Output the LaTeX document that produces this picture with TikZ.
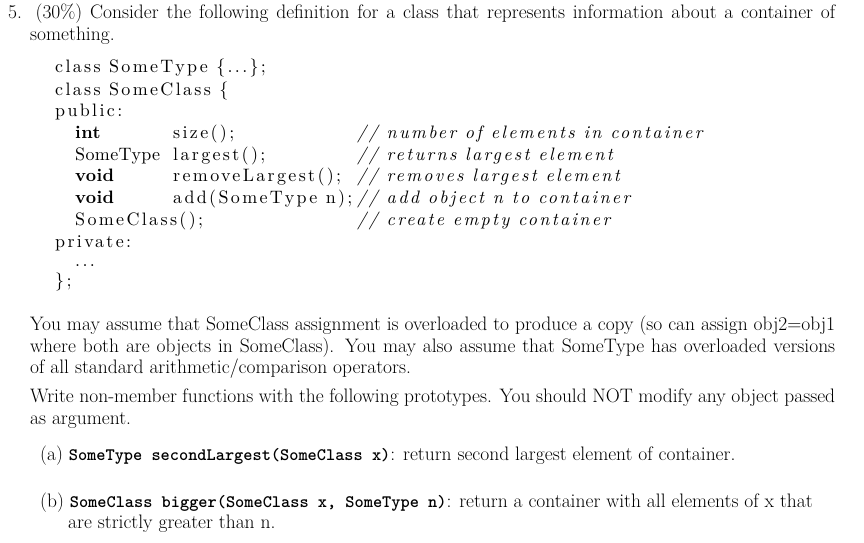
\documentclass[tikz,border=0pt]{standalone}
\usepackage{fontspec}
\newfontfamily\codefont{lmroman10-regular.otf}[LetterSpace=13,BoldFont=lmroman10-bold.otf,BoldFeatures={LetterSpace=2},ItalicFont=lmroman10-italic.otf,ItalicFeatures={LetterSpace=13}]
\newfontfamily\codenarrow{lmroman10-regular.otf}[LetterSpace=2]
\newcommand{\kw}[1]{\textbf{#1}}
\newcommand{\cm}[1]{{\itshape #1}}
\begin{document}
\begin{tikzpicture}[x=1pt,y=-1pt,
  t/.style={anchor=base west,inner sep=0pt,font=\fontsize{19.5}{22}\selectfont},
  c/.style={t,font=\fontsize{18}{22}\codefont}]
\useasboundingbox[fill=white] (0,0) rectangle (864,543);
\node[t] (l1) at (8,19) {\makebox[827pt][s]{5. (30\%) Consider the following definition for a class that represents information about a container of}};
\node[t] (l2) at (30,41) {something.};
\node[c] (c1) at (55,73) {class SomeType \{...\};};
\node[c] (c2) at (55,95) {class SomeClass \{};
\node[c] (c3) at (55,116) {public:};
\node[c] (c4a) at (75,138) {\kw{int}};
\node[c] (c4b) at (173,138) {size();};
\node[c] (c4c) at (357,138) {\cm{// number of elements in container}};
\node[c] (c5a) at (75,160) {\fontsize{18}{22}\codenarrow SomeType};
\node[c] (c5b) at (173,160) {largest();};
\node[c] (c5c) at (357,160) {\cm{// returns largest element}};
\node[c] (c6a) at (75,181) {\kw{void}};
\node[c] (c6b) at (173,181) {removeLargest();};
\node[c] (c6c) at (357,181) {\cm{// removes largest element}};
\node[c] (c7a) at (75,203) {\kw{void}};
\node[c] (c7b) at (173,203) {add(SomeType n);};
\node[c] (c7c) at (357,203) {\cm{// add object n to container}};
\node[c] (c8a) at (75,225) {SomeClass();};
\node[c] (c8c) at (357,225) {\cm{// create empty container}};
\node[c] (c9) at (55,247) {private:};
\node[c] (c10) at (75,266) {...};
\node[c] (c11) at (55,286) {\};};
\node[t] (p1) at (30,330) {\makebox[805pt][s]{You may assume that SomeClass assignment is overloaded to produce a copy (so can assign obj2=obj1}};
\node[t] (p2) at (30,352) {\makebox[805pt][s]{where both are objects in SomeClass). You may also assume that SomeType has overloaded versions}};
\node[t] (p3) at (30,373) {of all standard arithmetic/comparison operators.};
\node[t] (q1) at (30,402) {\makebox[805pt][s]{Write non-member functions with the following prototypes. You should NOT modify any object passed}};
\node[t] (q2) at (30,424) {as argument.};
\node[t] (a) at (40,460) {(a) {\fontsize{17.5}{20}\ttfamily\bfseries SomeType secondLargest(SomeClass x)}: return second largest element of container.};
\node[t] (b1) at (40,507) {(b) {\fontsize{17.5}{20}\ttfamily\bfseries SomeClass bigger(SomeClass x, SomeType n)}: return a container with all elements of x that};
\node[t] (b2) at (68,528) {are strictly greater than n.};
\end{tikzpicture}
\end{document}
